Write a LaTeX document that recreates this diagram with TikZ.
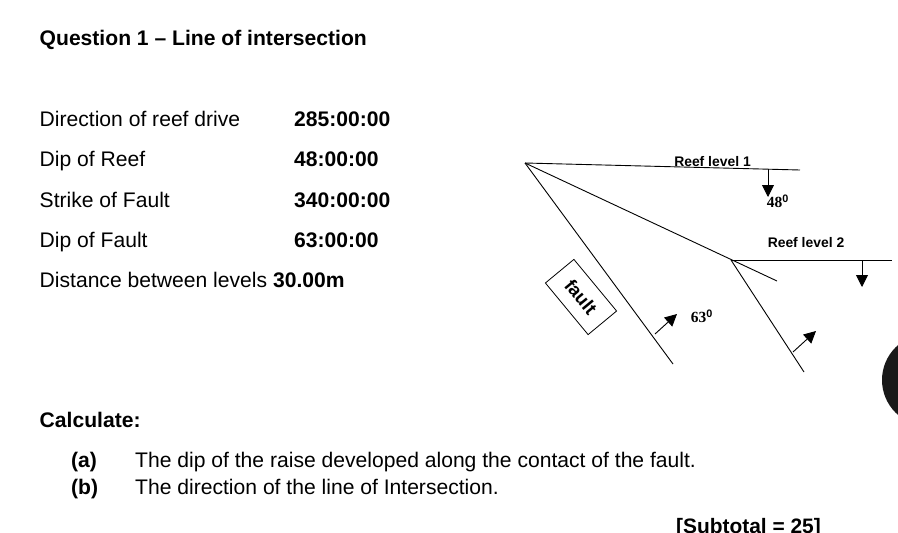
\documentclass[tikz,border=0pt]{standalone}
\usepackage{fontspec}
\setmainfont{Liberation Sans}
\newfontfamily\numfont{Liberation Serif}
\usetikzlibrary{arrows.meta}

\begin{document}
\begin{tikzpicture}
	[x=1pt,y=-1pt,
	main text/.style={anchor=base west,inner sep=0pt,font=\fontsize{21.1}{24}\selectfont},
	bold text/.style={main text,font=\fontsize{21.1}{24}\selectfont\bfseries},
	level label/.style={inner sep=0pt,font=\fontsize{13.9}{15}\selectfont\bfseries},
	angle label/.style={inner sep=0pt,font=\fontsize{15.5}{17}\selectfont\numfont\bfseries},
	plan line/.style={draw,line width=.9pt},
	dip arrow/.style={draw,line width=.9pt,-{Triangle[length=12pt,width=12pt]}}
	]
	\useasboundingbox (0,0) rectangle (898,533);

	\fill[fill=black!90] (928,380) circle (46);

	\node [bold text] (title) at (39.5,45) {Question 1 -- Line of intersection};

	\node [main text] (r1) at (39.5,126) {Direction of reef drive};
	\node [main text] (r2) at (39.5,166) {Dip of Reef};
	\node [main text] (r3) at (39.5,207) {Strike of Fault};
	\node [main text] (r4) at (39.5,247) {Dip of Fault};
	\node [main text] (r5) at (39.5,287) {Distance between levels \textbf{30.00m}};

	\node [bold text] (v1) at (294,126) {285:00:00};
	\node [bold text] (v2) at (294,166) {48:00:00};
	\node [bold text] (v3) at (294,207) {340:00:00};
	\node [bold text] (v4) at (294,247) {63:00:00};

	\node [bold text] (calc) at (39.5,427) {Calculate:};
	\node [bold text] (a) at (71,467) {(a)};
	\node [main text] (qa) at (135,467) {The dip of the raise developed along the contact of the fault.};
	\node [bold text] (b) at (71,494) {(b)};
	\node [main text] (qb) at (135,494) {The direction of the line of Intersection.};
	\node [bold text,font=\fontsize{20.9}{24}\selectfont\bfseries] (sub) at (676,533) {[Subtotal = 25]};

	% plan of the levels
	\coordinate (apex) at (525,163);
	\coordinate (l1) at (800,170);
	\coordinate (f1) at (673,364);
	\coordinate (junc) at (731,260);
	\coordinate (reef) at (777,281);
	\coordinate (l2) at (892,260);
	\coordinate (f2) at (804,372);

	\coordinate (d1a) at (768,169);
	\coordinate (d1b) at (768,197);
	\coordinate (d2a) at (862,260);
	\coordinate (d2b) at (862,287);
	\coordinate (d3a) at (655,334);
	\coordinate (d3b) at (677,314);
	\coordinate (d4a) at (793,352);
	\coordinate (d4b) at (816,331);

	\path[plan line]
	(apex) edge (l1)
	(apex) edge (f1)
	(apex) edge (reef)
	(junc) edge (l2)
	(junc) edge (f2)
	;

	\draw[dip arrow] (d1a) -- (d1b);
	\draw[dip arrow] (d2a) -- (d2b);
	\draw[dip arrow] (d3a) -- (d3b);
	\draw[dip arrow] (d4a) -- (d4b);

	\node [level label] (lab1) at (712.5,162) {Reef level 1};
	\node [level label] (lab2) at (806,243) {Reef level 2};
	\node [angle label] (ang1) at (778,201) {48$^{\mathbf{0}}$};
	\node [angle label] (ang2) at (702,316) {63$^{\mathbf{0}}$};

	\node [draw,line width=.8pt,rotate=-50.4,minimum width=67pt,minimum height=37pt,inner sep=0pt,font=\fontsize{18.5}{20}\selectfont\bfseries] (faultbox) at (581,297) {fault};
\end{tikzpicture}
\end{document}
